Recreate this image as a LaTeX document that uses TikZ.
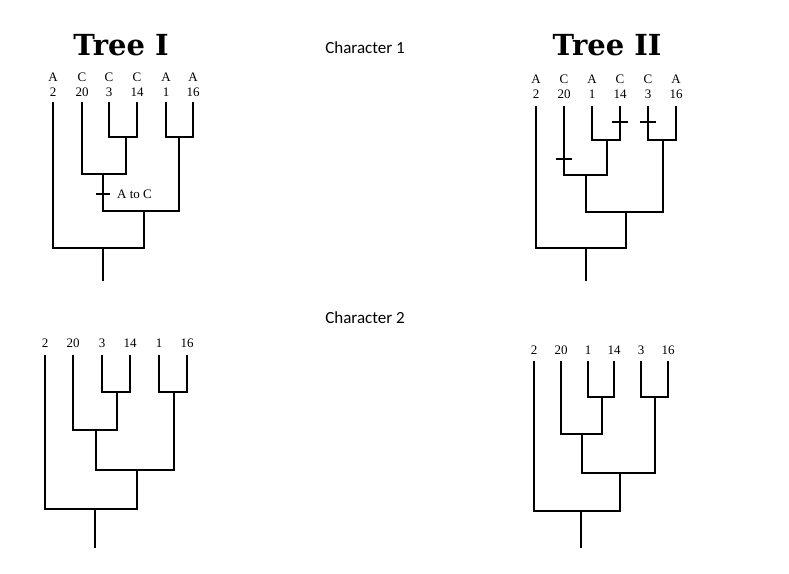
\documentclass[tikz,border=0pt]{standalone}
\usepackage{fontspec}
\setmainfont{DejaVu Serif}
\newfontfamily\carl{Carlito}
\newfontfamily\lab{Liberation Serif}
\begin{document}
\begin{tikzpicture}[x=1pt,y=-1pt,
  br/.style={line width=2.6pt,line cap=rect},
  tk/.style={line width=1.4pt},
  lf/.style={font=\lab\fontsize{13}{12}\selectfont,inner sep=0pt},
  ttl/.style={font=\bfseries\fontsize{29}{30}\selectfont,inner sep=0pt},
  chr/.style={font=\carl\fontsize{17}{18}\selectfont,inner sep=0pt}]
\useasboundingbox (0,0) rectangle (789,573);
\fill[white] (0,0) rectangle (789,573);
% titles
\node[ttl] (t1) at (121,45) {Tree I};
\node[ttl] (t2) at (607,45) {Tree II};
\node[chr] (c1) at (365,48) {Character 1};
\node[chr] (c2) at (365,318) {Character 2};
% ---------- Tree I
\foreach \n/\x/\s/\l in {a/53/A/2,b/82/C/20,c/109/C/3,d/137/C/14,e/166/A/1,f/193/A/16}{
  \node[lf] (A\n s) at (\x,77) {\s};
  \node[lf] (A\n) at (\x,92) {\l};
  \coordinate (A\n t) at (\x,103);}
\draw[br] (Act) |- (126,137) -| (Adt);
\draw[br] (Aet) |- (179,137) -| (Aft);
\draw[br] (126,137) -- (126,174);
\draw[br] (Abt) |- (126,174);
\draw[br] (179,137) -- (179,211) -- (103,211) -- (103,174);
\draw[br] (144,211) -- (144,248) -- (53,248) -- (Aat);
\draw[br] (103,248) -- (103,280);
\draw[tk] (96,194) -- (110,194);
\node[font=\lab\fontsize{13}{12}\selectfont,anchor=west,inner sep=0pt] (atoc) at (117,194) {A to C};
% ---------- Tree II
\foreach \n/\x/\s/\l in {a/536/A/2,b/564/C/20,c/592/A/1,d/620/C/14,e/648/C/3,f/676/A/16}{
  \node[lf] (B\n s) at (\x,79) {\s};
  \node[lf] (B\n) at (\x,94) {\l};
  \coordinate (B\n t) at (\x,107);}
\draw[br] (Bct) |- (607,140) -| (Bdt);
\draw[br] (Bet) |- (663,140) -| (Bft);
\draw[br] (Bbt) |- (607,175) -- (607,140);
\draw[br] (663,140) -- (663,212) -- (586,212) -- (586,175);
\draw[br] (626,212) -- (626,248) -- (536,248) -- (Bat);
\draw[br] (586,248) -- (586,280);
\draw[tk] (612,122) -- (628,122);
\draw[tk] (640,122) -- (656,122);
\draw[tk] (556,159) -- (572,159);
% ---------- bottom left
\foreach \n/\x/\l in {a/45/2,b/73/20,c/102/3,d/130/14,e/159/1,f/187/16}{
  \node[lf] (C\n) at (\x,343) {\l};
  \coordinate (C\n t) at (\x,356);}
\draw[br] (Cct) |- (117,392) -| (Cdt);
\draw[br] (Cet) |- (174,392) -| (Cft);
\draw[br] (Cbt) |- (117,430) -- (117,392);
\draw[br] (174,392) -- (174,470) -- (96,470) -- (96,430);
\draw[br] (137,470) -- (137,509) -- (45,509) -- (Cat);
\draw[br] (95,509) -- (95,547);
% ---------- bottom right
\foreach \n/\x/\l in {a/534/2,b/561/20,c/588/1,d/614/14,e/641/3,f/668/16}{
  \node[lf] (D\n) at (\x,350) {\l};
  \coordinate (D\n t) at (\x,362);}
\draw[br] (Dct) |- (602,397) -| (Ddt);
\draw[br] (Det) |- (655,397) -| (Dft);
\draw[br] (Dbt) |- (602,434) -- (602,397);
\draw[br] (655,397) -- (655,473) -- (582,473) -- (582,434);
\draw[br] (620,473) -- (620,511) -- (534,511) -- (Dat);
\draw[br] (581,511) -- (581,547);
\end{tikzpicture}
\end{document}
